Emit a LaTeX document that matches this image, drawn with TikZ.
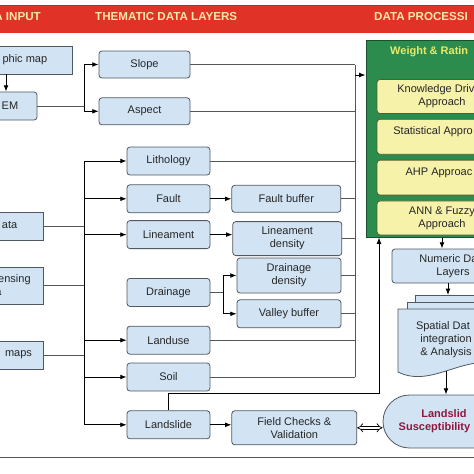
\documentclass[tikz,border=0pt]{standalone}
\usepackage{fontspec}
\setmainfont{Liberation Sans}
\usetikzlibrary{arrows.meta,positioning}

\definecolor{boxfill}{RGB}{210,228,244}
\definecolor{boxline}{RGB}{80,88,98}
\definecolor{ybfill}{RGB}{246,242,170}
\definecolor{ybline}{RGB}{90,90,50}
\definecolor{gfill}{RGB}{44,140,78}
\definecolor{gline}{RGB}{25,80,45}
\definecolor{hdrred}{RGB}{224,50,38}
\definecolor{hdrtext}{RGB}{247,232,168}
\definecolor{gtext}{RGB}{228,234,110}
\definecolor{termtext}{RGB}{140,24,60}
\definecolor{linecol}{RGB}{85,85,85}

\newcommand{\nodefont}{\fontsize{11}{13}\selectfont}

\begin{document}
\begin{tikzpicture}[
x=1pt, y=-1pt,
node distance=9pt,
box/.style={draw=boxline, fill=boxfill, rounded corners=3pt, line width=0.8pt, align=center, minimum height=28pt, inner sep=2pt, font=\nodefont, text=black!85},
inbox/.style={box, sharp corners},
mid/.style={box, minimum width=83pt},
ybox/.style={box, draw=ybline, fill=ybfill, minimum width=130pt, minimum height=34pt},
page/.style={draw=boxline, fill=boxfill, line width=0.8pt},
hdr/.style={font=\fontsize{11.6}{14}\selectfont\bfseries, text=hdrtext, inner sep=0pt},
arrow/.style={-{Latex[length=2.2mm]}, thick},
link/.style={draw=linecol, line width=0.8pt},
dbl/.style={double, double distance=2.4pt, line width=0.7pt, {Implies}-{Implies}}
]
\useasboundingbox (0,0) rectangle (474,474);
\clip (0,0) rectangle (474,474);

% header band and frame
\fill[hdrred] (-10,5) rectangle (484,33);
\draw[linecol, line width=1pt] (-10,5) rectangle (484,457);
\node[hdr, anchor=east] (hinput) at (41,17) {A INPUT};
\node[hdr, anchor=west] (hlayers) at (95,17) {THEMATIC DATA LAYERS};
\node[hdr, anchor=west] (hproc) at (374,17) {DATA PROCESSI};

% data input
\node[inbox, minimum width=134pt] (topo) at (5,60) {\phantom{Topogra}phic map};
\node[box, minimum width=62pt] (dem) at (6,106) {\phantom{D}EM};
\node[inbox, minimum width=128pt] (geo) at (-21,226) {\phantom{Geological d}ata};
\node[inbox, minimum width=106pt, minimum height=37pt] (rs) at (-10,285.5) {\phantom{Remote S}ensing\\\phantom{Dat}a};
\node[inbox, minimum width=49pt] (maps) at (18.5,355) {maps};

% thematic layers
\node[box, minimum width=91pt, minimum height=27pt] (slope) at (144.5,64.5) {Slope};
\node[box, minimum width=91pt, minimum height=27pt, below=19pt of slope] (aspect) {Aspect};
\node[mid] (lith) at (168.5,161) {Lithology};
\node[mid, below=9pt of lith] (fault) {Fault};
\node[mid, below=7pt of fault] (linea) {Lineament};
\node[mid, below=29pt of linea] (drain) {Drainage};
\node[mid, below=19pt of drain] (landuse) {Landuse};
\node[mid, below=8pt of landuse] (soil) {Soil};
\node[mid, below=19pt of soil] (lslide) {Landslide};

\node[box, minimum width=109pt, minimum height=27pt, right=21pt of fault] (fbuf) {Fault buffer};
\node[box, minimum width=109pt, minimum height=34pt, right=22pt of linea, yshift=-4pt] (lden) {Lineament\\density};
\node[box, minimum width=104pt, minimum height=35pt] (ddens) at (289,275.5) {Drainage\\density};
\node[box, minimum width=104pt, below=6pt of ddens] (vbuf) {Valley buffer};
\node[box, minimum width=125pt, minimum height=34pt, right=21pt of lslide, yshift=-3pt] (fcheck) {Field Checks \&\\Validation};

% processing
\node[box, draw=gline, fill=gfill, sharp corners, line width=1pt, minimum width=152pt, minimum height=197pt] (weight) at (442,138.5) {};
\node[font=\nodefont\bfseries, text=gtext, anchor=west, inner sep=0pt] (wtitle) at (390,52) {Weight \& Ratin};
\node[ybox] (kda) at (442,96.5) {Knowledge Driv\phantom{en}\\Approach};
\node[ybox, minimum height=35pt, below=5pt of kda] (stat) {Statistical Appro\phantom{ach}\\\phantom{A}};
\node[ybox, minimum height=35pt, below=5pt of stat] (ahp) {AHP Approac\phantom{h}\\\phantom{A}};
\node[ybox, below=5pt of ahp] (ann) {ANN \& Fuzzy\\Approach};

\node[box, minimum width=122pt, minimum height=34pt] (numeric) at (453,266) {Numeric Da\phantom{ta}\\Layers};
\coordinate (stacktop) at (448,295);
\draw[page] (415,295) rectangle (511,352);
\draw[page] (407,302) rectangle (503,359);
\draw[page] (398,309) -- (494,309) -- (494,364) .. controls (462,356) and (430,388) .. (398,372) -- cycle;
\node[align=center, font=\nodefont, text=black!85, minimum width=96pt, minimum height=62pt, inner sep=0pt] (spatial) at (446,340) {Spatial Dat\phantom{a}\\integration\\\& Analysis};
\node[box, rounded corners=26.5pt, minimum width=128pt, minimum height=53pt, font=\nodefont\bfseries, text=termtext] (term) at (447,421.5) {Landslid\phantom{e}\\Susceptibility\phantom{ Map}};

% connectors
\coordinate (tr) at (84,0);
\coordinate (td) at (223,0);
\coordinate (c1) at (355,0);
\coordinate (c2) at (379,393);
\coordinate (cin) at (355,75);

\draw[arrow] (topo.south -| dem) -- (dem.north);
\draw[link] (dem) -- (dem -| tr);
\draw[arrow] (dem -| tr) |- (slope);
\draw[arrow] (dem -| tr) |- (aspect);

\foreach \nd in {geo,rs,maps} \draw[link] (\nd) -- (\nd -| tr);
\draw[thick] (tr |- lith) -- (tr |- lslide);
\foreach \nd in {lith,fault,linea,landuse,soil,lslide} \draw[arrow] (tr |- \nd) -- (\nd);

\draw[arrow] (fault) -- (fbuf);
\draw[arrow] (linea) -- (linea -| lden.west);
\draw[link] (drain) -- (drain -| td);
\draw[arrow] (drain -| td) |- (ddens);
\draw[arrow] (drain -| td) |- (vbuf);
\draw[arrow] (lslide) -- (lslide -| fcheck.west);

\foreach \nd in {slope,aspect,lith,fbuf,lden,ddens,vbuf,landuse,soil} \draw[link] (\nd) -- (\nd -| c1);
\draw[link] (c1 |- slope) -- (c1 |- soil);
\draw[arrow] (cin) -- (cin -| weight.west);
\draw[arrow] (lslide.north) |- (c2) -- (c2 |- weight.south);

\draw[arrow] (weight.south) -- (weight.south |- numeric.north);
\draw[arrow] ([xshift=-5pt]numeric.south) -- (stacktop);
\draw[arrow] (spatial.south) -- (spatial.south |- term.north);
\draw[dbl] (fcheck) -- (fcheck -| term.west);
\end{tikzpicture}
\end{document}
